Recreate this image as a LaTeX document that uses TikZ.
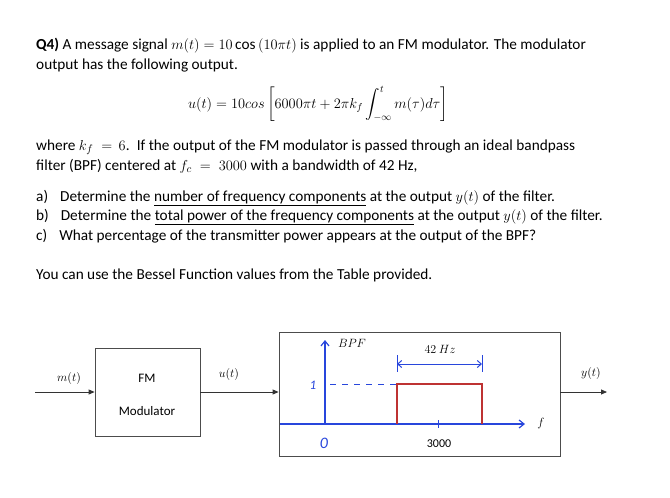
\documentclass[tikz,border=0pt]{standalone}
\usepackage{amsmath}
\usepackage{fontspec}
\setmainfont{Carlito}
\usetikzlibrary{arrows.meta}
\definecolor{bl}{RGB}{40,70,220}
\definecolor{rd}{RGB}{190,50,50}
\begin{document}
\begin{tikzpicture}[x=1pt,y=-1pt,
  txt/.style={anchor=base west,inner sep=0pt,font=\fontsize{15.3}{18}\selectfont},
  lab/.style={inner sep=0pt,font=\fontsize{13}{15}\selectfont},
  blk/.style={draw=black!70,line width=0.8pt},
  sig/.style={draw=black!80,line width=0.8pt,-{Triangle[length=6pt,width=5pt]}},
  ax/.style={draw=bl,line width=1.2pt,-{Straight Barb[length=5pt,width=8pt]}}]
\useasboundingbox (0,0) rectangle (670,498);
\node[txt] (l1) at (36,49) {\textbf{Q4)} A message signal $m(t)=10\cos\,(10\pi t)$ is applied to an FM modulator. The modulator};
\node[txt] (l2) at (36,69) {output has the following output.};
\node[inner sep=0pt] (eq) at (318,104) {\fontsize{14}{16}\selectfont$u(t)=10cos\left[6000\pi t+2\pi k_f\displaystyle\int_{-\infty}^{t} m(\tau)d\tau\right]$};
\node[txt] (l3) at (36,150) {where $k_f\;=\,6$.\, If the output of the FM modulator is passed through an ideal bandpass};
\node[txt] (l4) at (36,170) {filter (BPF) centered at $f_c\;=\;3000$ with a bandwidth of 42 Hz,};
\node[txt] (a) at (36,201) {a)\;\; Determine the \underline{number of frequency components} at the output $y(t)$ of the filter.};
\node[txt] (b) at (36,220) {b)\;\; Determine the \underline{total power of the frequency components} at the output $y(t)$ of the filter.};
\node[txt] (c) at (36,240) {c)\;\; What percentage of the transmitter power appears at the output of the BPF?};
\node[txt] (l5) at (36,279) {You can use the Bessel Function values from the Table provided.};
% blocks
\node[blk,minimum width=105pt,minimum height=88pt] (fm) at (147.5,392) {};
\node[lab] (fmt) at (147,378) {FM};
\node[lab] (fmm) at (147,411) {Modulator};
\node[blk,minimum width=281pt,minimum height=124pt] (bpf) at (419.5,394) {};
\coordinate (in) at (35,392);
\coordinate (out) at (607,392);
\draw[sig] (in) -- (fm.west|-in);
\draw[sig] (fm.east|-in) -- (bpf.west|-in);
\draw[sig] (bpf.east|-out) -- (out);
\node[lab] (mt) at (69,378) {$m(t)$};
\node[lab] (ut) at (229,374) {$u(t)$};
\node[lab] (yt) at (591,373) {$y(t)$};
% inside
\coordinate (o) at (325,424);
\coordinate (ytop) at (325,340);
\coordinate (h0) at (280,424);
\coordinate (h1) at (525,424);
\draw[ax] (o) -- (ytop);
\draw[ax] (h0) -- (h1);
\node[lab,text=bl,font=\fontsize{16}{18}\selectfont\itshape] (zero) at (324,443) {0};
\node[lab,text=bl,font=\fontsize{13}{15}\selectfont\itshape] (one) at (313,385) {1};
\coordinate (r1) at (397,384);
\coordinate (r2) at (482,424);
\draw[bl,dashed,line width=1pt,dash pattern=on 6pt off 6pt] (330,384) -- (r1);
\draw[rd,line width=1.2pt] (397,424) -- (r1) -- (482,384) -- (r2);
\draw[bl,line width=1pt] (438,420) -- (438,428);
\node[lab,font=\fontsize{12}{14}\selectfont] (t3000) at (439,444) {3000};
\draw[bl,line width=1pt] (397,355) -- (397,372) (482,355) -- (482,372);
\draw[bl,line width=1pt,{Straight Barb[length=4pt,width=7pt]}-{Straight Barb[length=4pt,width=7pt]}] (397,364) -- (482,364);
\node[lab,font=\fontsize{11.5}{13}\selectfont] (hz) at (440,349) {$42\ Hz$};
\node[lab,font=\fontsize{11.5}{13}\selectfont] (bpft) at (352,343) {$BPF$};
\node[lab,font=\fontsize{11.5}{13}\selectfont] (ft) at (541,423) {$f$};
\end{tikzpicture}
\end{document}
